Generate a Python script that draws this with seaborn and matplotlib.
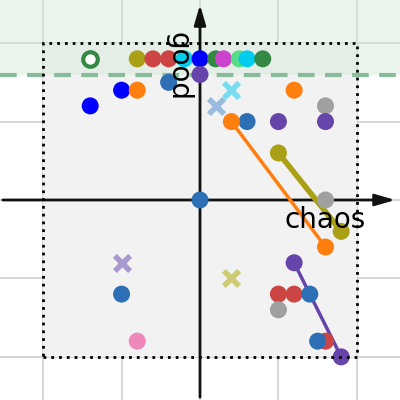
import matplotlib.pyplot as plt
import seaborn as sns
import pandas as pd
import matplotlib.patches as mpatches

# dots: x, y, colour
dot_x = [-1.6, -1.2, -0.8, -0.4, 0.0, 0.4, 0.6, 1.0, 1.2, 1.6,
         0.0, -0.8, -2.0, -1.6, -2.8, 2.4, 3.2, 1.2, 2.0, 3.2,
         3.2, 0.0, 2.0, 2.4, 2.8, 2.0, 3.2, 3.0, -2.0, -1.6]
dot_y = [3.6, 3.6, 3.6, 3.6, 3.6, 3.6, 3.6, 3.6, 3.6, 3.6,
         3.2, 3.0, 2.8, 2.8, 2.4, 2.8, 2.4, 2.0, 2.0, 2.0,
         0.0, 0.0, -2.4, -2.4, -2.4, -2.8, -3.6, -3.6, -2.4, -3.6]
dot_c = ["#aaa015", "#cc4444", "#cc4444", "#00ccee", "#0000ff", "#338844", "#cc44cc", "#55dd88", "#00ccee", "#338844",
         "#6644aa", "#2d6fb5", "#0000ff", "#ff7f0e", "#0000ff", "#ff7f0e", "#a0a0a0", "#2d6fb5", "#6644aa", "#6644aa",
         "#a0a0a0", "#2d6fb5", "#cc4444", "#cc4444", "#2d6fb5", "#a0a0a0", "#cc4444", "#2d6fb5", "#2d6fb5", "#ee88bb"]

# crosses
cross_x = [0.4, 0.8, 0.8, -2.0]
cross_y = [2.4, 2.8, -2.0, -1.6]
cross_c = ["#99bbdd", "#77ddee", "#cccc77", "#aa99cc"]

# line segments: (x0, y0, x1, y1, colour)
seg_x0 = [0.8, 2.0, 2.4]
seg_y0 = [2.0, 1.2, -1.6]
seg_x1 = [3.2, 3.6, 3.6]
seg_y1 = [-1.2, -0.8, -4.0]
seg_c = ["#ff7f0e", "#aaa015", "#6644aa"]
seg_w = [2.5, 4, 2.5]

open_x, open_y = [-2.8], [3.6]

fig = plt.figure(figsize=(4, 4), dpi=100)
ax = fig.add_axes([0, 0, 1, 1])
ax.set_xlim(-5.1, 5.1)
ax.set_ylim(-5.1, 5.1)
for g in [-4, -2, 0, 2, 4]:
    ax.axvline(g, color="#d0d0d0", lw=1.2, zorder=0)
    ax.axhline(g, color="#d0d0d0", lw=1.2, zorder=0)
ax.add_patch(mpatches.Rectangle((-4, -4), 8, 8, facecolor="#f2f2f2", edgecolor="none", zorder=0.5))
ax.add_patch(mpatches.Rectangle((-5.1, 3.2), 10.2, 2, facecolor="#cfe8d4", alpha=0.4, edgecolor="none", zorder=0.6))
ax.add_patch(mpatches.Rectangle((-4, -4), 8, 8, fill=False, edgecolor="black", lw=2, ls=(0, (1, 1.8)), zorder=5))
ax.axhline(3.2, color="#88bb99", lw=3, ls=(0, (4, 2.5)), zorder=1)

ax.annotate("", xy=(0, 5.05), xytext=(0, -5.1),
            arrowprops=dict(arrowstyle="-|>,head_width=0.35,head_length=1.2", color="#111111", lw=2), zorder=2)
ax.annotate("", xy=(5.05, 0), xytext=(-5.1, 0),
            arrowprops=dict(arrowstyle="-|>,head_width=0.35,head_length=1.2", color="#111111", lw=2), zorder=2)

for i in range(len(seg_c)):
    sns.lineplot(x=[seg_x0[i], seg_x1[i]], y=[seg_y0[i], seg_y1[i]], color=seg_c[i], lw=seg_w[i], ax=ax, zorder=3)

df = pd.DataFrame({"x": dot_x, "y": dot_y, "c": dot_c})
sns.scatterplot(data=df, x="x", y="y", hue="c", palette={c: c for c in set(dot_c)},
                s=150, edgecolor="none", legend=False, ax=ax, zorder=4)
sns.scatterplot(x=seg_x0 + seg_x1, y=seg_y0 + seg_y1, hue=seg_c + seg_c, palette={c: c for c in seg_c},
                s=150, edgecolor="none", legend=False, ax=ax, zorder=4)
for x, y, c in zip(cross_x, cross_y, cross_c):
    ax.scatter([x], [y], marker="x", s=120, linewidths=4, color=c, zorder=4)
ax.scatter(open_x, open_y, s=110, facecolor="white", edgecolor="#338844", linewidths=3, zorder=4)

ax.text(-0.55, 3.4, "good", rotation=-90, fontsize=20, ha="center", va="center", zorder=6)
ax.text(3.2, -0.5, "chaos", fontsize=20, ha="center", va="center", zorder=6)

ax.set_axis_off()
fig.savefig("out.png", dpi=100)
